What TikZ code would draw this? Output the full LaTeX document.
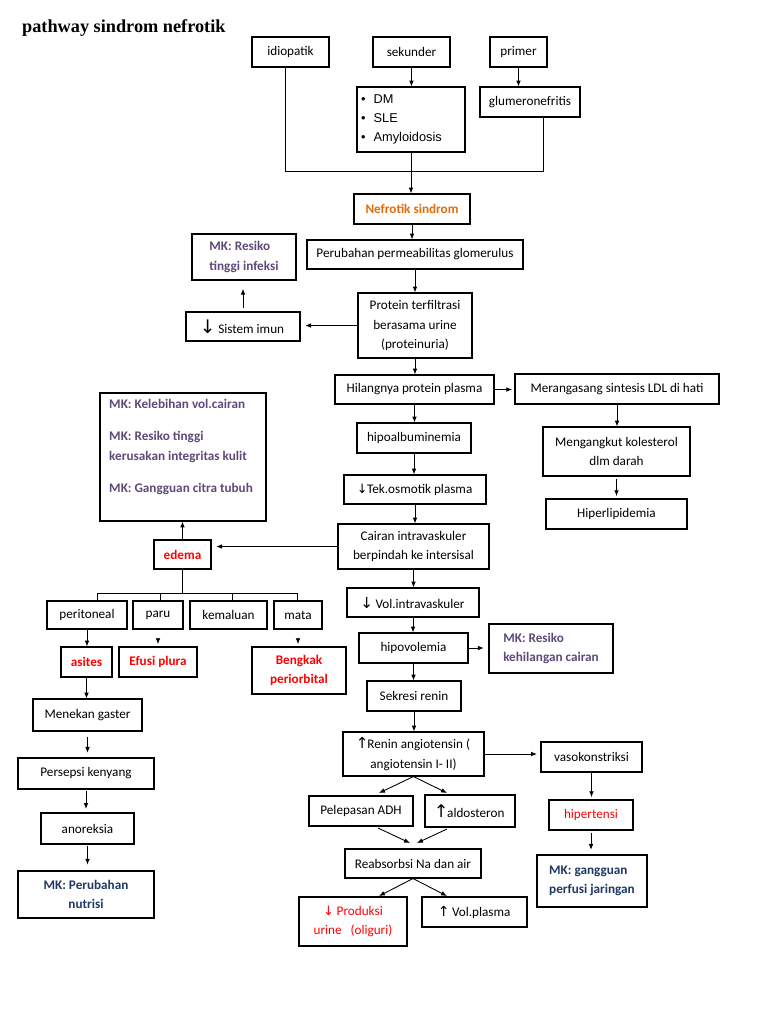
\documentclass[tikz,border=0pt]{standalone}
\usepackage{fontspec}
\setmainfont{Carlito}
\newfontfamily\titlefont{Liberation Serif}
\newfontfamily\arialfont{Liberation Sans}
\newfontfamily\symfont{DejaVu Sans}
\usetikzlibrary{arrows.meta,calc}
\definecolor{mkpurple}{HTML}{5F497A}
\definecolor{mknavy}{HTML}{1F3864}
\definecolor{nsorange}{HTML}{E36C09}
\definecolor{hired}{HTML}{FF0000}
\newcommand\basefont{\fontsize{11.25}{16.6}\selectfont}
\newcommand\arrsym[3]{\makebox[#2pt][c]{\fontsize{#1}{#1}\symfont #3}}
\newcommand\Bx[7]{\node[box,#1,minimum width={(#5-#3)*0.3mm},minimum height={(#6-#4)*0.3mm}] (#2) at ({(#3+#5)/2},{(#4+#6)/2}) {#7};}
\newcommand\LBx[8]{\node[box,#1,align=left,inner xsep={#7*0.3mm},text width={(#5-#3-2*#7)*0.3mm},minimum height={(#6-#4)*0.3mm}] (#2) at ({(#3+#5)/2},{(#4+#6)/2}) {#8};}
\begin{document}
\begin{tikzpicture}[x=0.3mm,y=-0.3mm,
  box/.style={draw,line width=0.9pt,inner sep=0pt,align=center,font=\basefont},
  mkp/.style={text=mkpurple,font=\basefont\bfseries,align=left},
  mkn/.style={text=mknavy,font=\basefont\bfseries},
  redb/.style={text=hired,font=\basefont\bfseries},
  redn/.style={text=hired},
  arr/.style={-{Latex[length=5pt,width=4pt]},line width=0.75pt},
  ln/.style={line width=0.75pt}]
\fill[white] (0,0) rectangle (768,1024);
\useasboundingbox (0,0) rectangle (768,1024);
\node[anchor=base west,font=\fontsize{15.6}{18}\titlefont\bfseries] (title) at (18,32) {pathway sindrom nefrotik};
% top
\Bx{}{idio}{252}{37}{329}{67}{idiopatik}
\Bx{}{sek}{373}{37}{450}{67}{sekunder}
\Bx{}{prim}{490}{37}{547}{67}{primer}
\LBx{font=\fontsize{10.9}{16.2}\arialfont}{list}{357}{87}{465}{152}{4}{\textbullet\hspace{7pt}DM\\\textbullet\hspace{7pt}SLE\\\textbullet\hspace{7pt}Amyloidosis}
\Bx{}{glum}{480}{87}{580}{117}{glumeronefritis}
\Bx{text=nsorange,font=\basefont\bfseries}{nef}{354}{194}{470}{224}{Nefrotik sindrom}
\Bx{}{perm}{307}{240}{523}{269}{Perubahan permeabilitas glomerulus}
\Bx{}{prot}{358}{293}{472}{358}{Protein terfiltrasi\\berasama urine\\(proteinuria)}
\Bx{}{imun}{186}{312}{300}{341}{\arrsym{16}{10}{↓}\hspace{4pt}Sistem imun}
\Bx{mkp}{mkinf}{192}{234}{296}{280}{MK: Resiko\\tinggi infeksi}
\Bx{}{hil}{335}{375}{494}{404}{Hilangnya protein plasma}
\Bx{}{ldl}{515}{374}{719}{404}{Merangasang sintesis LDL di hati}
\Bx{}{hipoalb}{357}{423}{471}{453}{hipoalbuminemia}
\Bx{}{kol}{543}{427}{690}{476}{Mengangkut kolesterol\\dlm darah}
\Bx{}{hiper}{546}{499}{687}{529}{Hiperlipidemia}
\Bx{}{tek}{344}{475}{486}{504}{\arrsym{11}{8}{↓}Tek.osmotik plasma}
\Bx{}{cair}{338}{524}{489}{569}{Cairan intravaskuler\\berpindah ke intersisal}
\Bx{}{mkbig}{100}{393}{266}{521}{}
\node[mkp,anchor=north west,inner sep=0pt] (mkbigtext) at (109,399) {MK: Kelebihan vol.cairan\\[11pt]MK: Resiko tinggi\\kerusakan integritas kulit\\[11pt]MK: Gangguan citra tubuh};
\Bx{redb}{edema}{154}{540}{211}{569}{edema}
\Bx{}{peri}{47}{601}{127}{629}{peritoneal}
\Bx{}{paru}{133}{601}{183}{629}{paru}
\Bx{}{kem}{190}{601}{267}{629}{kemaluan}
\Bx{}{mata}{274}{601}{322}{629}{mata}
\Bx{redb}{asites}{61}{647}{112}{677}{asites}
\Bx{redb}{efusi}{119}{647}{197}{677}{Efusi plura}
\Bx{redb}{bengkak}{252}{647}{346}{694}{Bengkak\\periorbital}
\Bx{}{menekan}{33}{699}{142}{731}{Menekan gaster}
\Bx{}{persepsi}{18}{758}{154}{789}{Persepsi kenyang}
\Bx{}{anor}{41}{813}{134}{844}{anoreksia}
\Bx{mkn}{mknut}{18}{871}{154}{918}{MK: Perubahan\\nutrisi}
\Bx{}{vol}{347}{588}{479}{617}{\arrsym{13}{9}{↓}\hspace{3pt}Vol.intravaskuler}
\Bx{}{hipov}{359}{633}{468}{663}{hipovolemia}
\Bx{mkp}{mkhil}{489}{624}{613}{673}{MK: Resiko\\kehilangan cairan}
\Bx{}{renin}{367}{681}{461}{711}{Sekresi renin}
\Bx{}{ang}{343}{732}{484}{776}{\arrsym{13}{9}{↑}Renin angiotensin (\\angiotensin I- II)}
\Bx{}{vaso}{541}{742}{642}{772}{vasokonstriksi}
\Bx{redn}{hipert}{549}{800}{633}{830}{hipertensi}
\Bx{mkn,align=left}{mkperf}{537}{855}{647}{907}{MK: gangguan\\perfusi jaringan}
\Bx{}{adh}{309}{796}{413}{826}{Pelepasan ADH}
\Bx{}{ald}{425}{795}{515}{827}{\arrsym{15}{10}{↑}aldosteron}
\Bx{}{reab}{345}{849}{481}{878}{Reabsorbsi Na dan air}
\Bx{redn}{prod}{299}{897}{407}{946}{\arrsym{11}{9}{↓} Produksi\\urine~~~(oliguri)}
\Bx{}{vplas}{422}{897}{527}{927}{\arrsym{12}{9}{↑} Vol.plasma}
% coordinates
\coordinate (jl) at (285,171);
\coordinate (jr) at (543,171);
\coordinate (ebar) at (182.5,593);
\coordinate (tp) at (97,593);
\coordinate (tq) at (160,593);
\coordinate (tk) at (232,593);
\coordinate (tm) at (297,593);
\coordinate (adhtip) at (379,793);
\coordinate (aldtip) at (447,793);
\coordinate (adhout) at (378,828);
\coordinate (aldout) at (447,829);
\coordinate (reabL) at (410,843);
\coordinate (reabR) at (417,843);
\coordinate (prodtip) at (379,896);
\coordinate (vptip) at (447,896);
% connectors
\draw[ln] (idio.south -| jl) -- (jl) -- (jr) -- (glum.south -| jr);
\draw[arr] (sek.south) -- (sek.south |- list.north);
\draw[arr] (prim.south) -- (prim.south |- glum.north);
\draw[arr] (list.south) -- (list.south |- nef.north);
\draw[arr] (nef.south) -- (nef.south |- perm.north);
\draw[arr] (perm.south) -- (perm.south |- prot.north);
\draw[arr,shorten >=4pt] (prot.west) -- (prot.west -| imun.east);
\draw[arr,shorten <=3pt,shorten >=7pt] (imun.north) -- (imun.north |- mkinf.south);
\draw[arr] (prot.south) -- (prot.south |- hil.north);
\draw[arr,shorten >=2pt] (hil.east) -- (hil.east -| ldl.west);
\draw[arr] (ldl.south) -- (ldl.south |- kol.north);
\draw[arr,shorten <=2pt,shorten >=2pt] (kol.south) -- (kol.south |- hiper.north);
\draw[arr] (hil.south) -- (hil.south |- hipoalb.north);
\draw[arr] (hipoalb.south) -- (hipoalb.south |- tek.north);
\draw[arr] (tek.south) -- (tek.south |- cair.north);
\draw[arr,shorten >=4pt] (cair.west) -- (cair.west -| edema.east);
\draw[arr] (edema.north) -- (edema.north |- mkbig.south);
\draw[ln] (edema.south) -- (edema.south |- ebar);
\draw[ln] (tp) -- (tm);
\draw[ln] (tp) -- (tp |- peri.north);
\draw[ln] (tq) -- (tq |- paru.north);
\draw[ln] (tk) -- (tk |- kem.north);
\draw[ln] (tm) -- (tm |- mata.north);
\draw[arr] (peri.south) -- (peri.south |- asites.north);
\draw[arr,shorten <=7pt,shorten >=2pt] (paru.south) -- (paru.south |- efusi.north);
\draw[arr,shorten <=7pt,shorten >=2pt] (mata.south) -- (mata.south |- bengkak.north);
\draw[arr] (asites.south) -- (asites.south |- menekan.north);
\draw[arr,shorten <=5pt,shorten >=4pt] (menekan.south) -- (menekan.south |- persepsi.north);
\draw[arr,shorten <=1pt,shorten >=3pt] (persepsi.south) -- (persepsi.south |- anor.north);
\draw[arr,shorten <=1pt,shorten >=5pt] (anor.south) -- (anor.south |- mknut.north);
\draw[arr] (cair.south) -- (cair.south |- vol.north);
\draw[arr] (vol.south) -- (vol.south |- hipov.north);
\draw[arr,shorten >=4pt] (hipov.east) -- (hipov.east -| mkhil.west);
\draw[arr] (hipov.south) -- (hipov.south |- renin.north);
\draw[arr] (renin.south) -- (renin.south |- ang.north);
\draw[arr,shorten >=3pt] (ang.east) -- (ang.east -| vaso.west);
\draw[arr,shorten >=2pt] (vaso.south) -- (vaso.south |- hipert.north);
\draw[arr,shorten <=2pt,shorten >=4pt] (hipert.south) -- (hipert.south |- mkperf.north);
\draw[arr] (ang.south) -- (adhtip);
\draw[arr] (ang.south) -- (aldtip);
\draw[arr] (adhout) -- (reabL);
\draw[arr] (aldout) -- (reabR);
\draw[arr] (reab.south) -- (prodtip);
\draw[arr] (reab.south) -- (vptip);
\end{tikzpicture}
\end{document}
